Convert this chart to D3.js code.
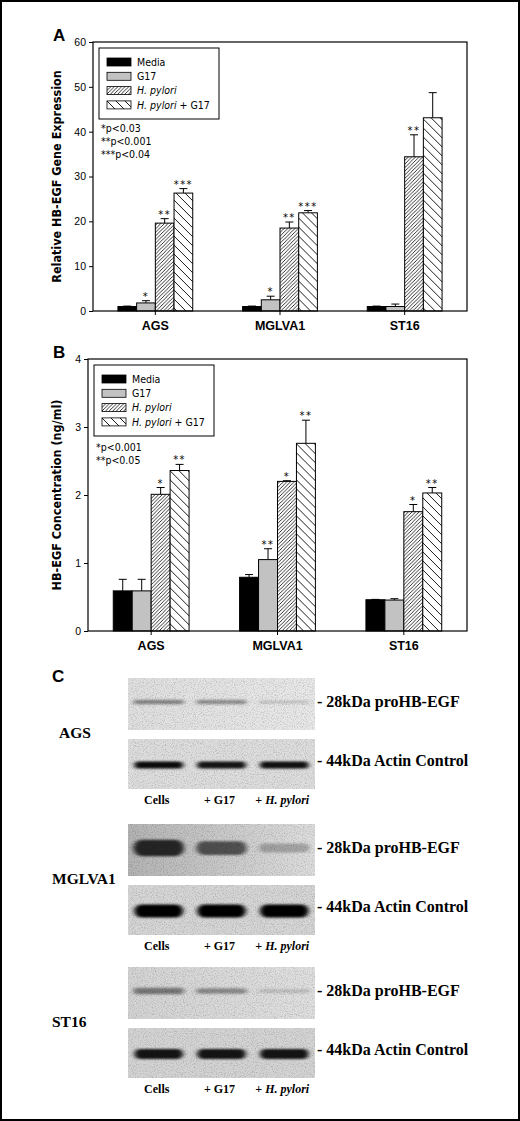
<!DOCTYPE html>
<html>
<head>
<meta charset="utf-8">
<script src="https://cdn.jsdelivr.net/npm/d3@7"></script>
<style>
  body { margin: 0; background: #fff; }
  svg { display: block; }
  .sans { font-family: "DejaVu Sans Condensed", "DejaVu Sans", sans-serif; font-stretch: condensed; }
  .serif { font-family: "Liberation Serif", "Times New Roman", serif; font-weight: bold; }
</style>
</head>
<body>
<svg id="fig" width="520" height="1121"></svg>
<script>
// ---- data ----
const groups = ["AGS", "MGLVA1", "ST16"];
const series = ["Media", "G17", "H. pylori", "H. pylori + G17"];

// panel A: relative HB-EGF gene expression
const geneMean = [[1.0, 1.8, 19.6, 26.3], [1.0, 2.5, 18.5, 21.9], [1.0, 1.0, 34.4, 43.1]];
const geneErr = [[0.1, 0.5, 1.0, 1.0], [0.1, 0.8, 1.35, 0.5], [0.1, 0.55, 4.9, 5.6]];
const geneStars = [["", "*", "**", "***"], ["", "*", "**", "***"], ["", "", "**", ""]];
const geneTicks = [0, 10, 20, 30, 40, 50, 60];
const geneNotes = ["*p<0.03", "**p<0.001", "***p<0.04"];

// panel B: HB-EGF concentration (ng/ml)
const concMean = [[0.59, 0.59, 2.01, 2.36], [0.79, 1.05, 2.2, 2.76], [0.46, 0.455, 1.755, 2.03]];
const concErr = [[0.17, 0.17, 0.1, 0.09], [0.04, 0.16, 0.01, 0.34], [0.005, 0.02, 0.105, 0.08]];
const concStars = [["", "", "*", "**"], ["", "**", "*", "**"], ["", "", "*", "**"]];
const concTicks = [0, 1, 2, 3, 4];
const concNotes = ["*p<0.001", "**p<0.05"];

// panel C: western blots, relative band darkness per lane
const lanes = ["Cells", "+ G17", "+ H. pylori"];
const proBand = [[0.5, 0.45, 0.2], [1.0, 0.75, 0.3], [0.55, 0.45, 0.18]];
const actinBand = [[0.95, 0.9, 0.92], [1.0, 1.0, 1.0], [0.9, 0.9, 0.9]];

const svg = d3.select("#fig");
const defs = svg.append("defs");

// hatch patterns
const dense = defs.append("pattern").attr("id", "hatchDense")
  .attr("patternUnits", "userSpaceOnUse").attr("width", 3.6).attr("height", 3.6);
dense.append("rect").attr("width", 3.6).attr("height", 3.6).attr("fill", "#fff");
dense.append("path").attr("d", "M-1,1 L1,-1 M0,3.6 L3.6,0 M2.6,4.6 L4.6,2.6")
  .attr("stroke", "#000").attr("stroke-width", 0.8);

const wide = defs.append("pattern").attr("id", "hatchWide")
  .attr("patternUnits", "userSpaceOnUse").attr("width", 9).attr("height", 9);
wide.append("rect").attr("width", 9).attr("height", 9).attr("fill", "#fff");
wide.append("path").attr("d", "M0,0 L9,9 M-1,8 L1,10 M8,-1 L10,1")
  .attr("stroke", "#000").attr("stroke-width", 0.9);

defs.append("filter").attr("id", "blur").attr("x", "-30%").attr("y", "-150%")
  .attr("width", "160%").attr("height", "400%")
  .append("feGaussianBlur").attr("stdDeviation", "2.5 1.3");

// faint film grain for blot backgrounds
const grain = defs.append("filter").attr("id", "grain");
grain.append("feTurbulence").attr("type", "fractalNoise").attr("baseFrequency", 0.9)
  .attr("numOctaves", 2).attr("seed", 3).attr("result", "noise");
grain.append("feColorMatrix").attr("in", "noise").attr("type", "matrix")
  .attr("values", "0 0 0 0 0  0 0 0 0 0  0 0 0 0 0  0 0 0 -0.9 0.5").attr("result", "dots");
grain.append("feComposite").attr("in", "dots").attr("in2", "SourceGraphic")
  .attr("operator", "in").attr("result", "clipped");
grain.append("feMerge").call(m => {
  m.append("feMergeNode").attr("in", "SourceGraphic");
  m.append("feMergeNode").attr("in", "clipped");
});

const fills = ["#000", "#c2c2c2", "url(#hatchDense)", "url(#hatchWide)"];

// outer frame
svg.append("rect").attr("x", 1).attr("y", 1).attr("width", 518).attr("height", 1119)
  .attr("fill", "none").attr("stroke", "#000").attr("stroke-width", 2);

function italicLabel(sel, label) {
  const k = label.indexOf("H. pylori");
  if (k < 0) { sel.text(label); return; }
  if (k > 0) sel.append("tspan").text(label.slice(0, k));
  sel.append("tspan").attr("font-style", "italic").text("H. pylori");
  sel.append("tspan").text(label.slice(k + 9));
}

function drawPanel(p) {
  const g = svg.append("g").attr("class", "sans");
  const x = d3.scaleBand().domain(groups).range([p.left, p.right])
    .paddingInner(0.4).paddingOuter(0.2);
  const xi = d3.scaleBand().domain(series).range([0, x.bandwidth()]);
  const y = d3.scaleLinear().domain([0, p.max]).range([p.bottom, p.top]);

  // axes
  const ya = g.append("g").attr("transform", `translate(${p.left},0)`)
    .call(d3.axisLeft(y).tickValues(p.ticks).tickFormat(d3.format("d"))
      .tickSize(4).tickPadding(3));
  ya.select(".domain").remove();
  ya.selectAll("text").attr("font-size", 10.5).attr("fill", "#000");

  const xa = g.append("g").attr("transform", `translate(0,${p.bottom})`)
    .call(d3.axisBottom(x).tickSize(4).tickPadding(6));
  xa.select(".domain").remove();
  xa.selectAll("text").attr("font-size", 12.5).attr("font-weight", "bold").attr("fill", "#000");

  // bars
  groups.forEach((grp, gi) => {
    const gg = g.append("g").attr("transform", `translate(${x(grp)},0)`);
    series.forEach((s, si) => {
      const v = p.mean[gi][si];
      const e = p.err[gi][si];
      const cx = xi(s) + xi.bandwidth() / 2;
      gg.append("line").attr("x1", cx).attr("x2", cx)
        .attr("y1", y(v)).attr("y2", y(v + e)).attr("stroke", "#000");
      gg.append("line").attr("x1", cx - 4).attr("x2", cx + 4)
        .attr("y1", y(v + e)).attr("y2", y(v + e)).attr("stroke", "#000");
      gg.append("rect").attr("x", xi(s)).attr("width", xi.bandwidth())
        .attr("y", y(v)).attr("height", y(0) - y(v))
        .attr("fill", fills[si]).attr("stroke", "#000").attr("stroke-width", 1);
      if (p.stars[gi][si]) {
        gg.append("text").attr("x", cx).attr("y", y(v + e) - 1)
          .attr("text-anchor", "middle").attr("font-size", 11)
          .attr("letter-spacing", 1.5).text(p.stars[gi][si]);
      }
    });
  });

  // frame
  g.append("rect").attr("x", p.left).attr("y", p.top)
    .attr("width", p.right - p.left).attr("height", p.bottom - p.top)
    .attr("fill", "none").attr("stroke", "#000").attr("stroke-width", 1.2);

  // legend
  const lg = g.append("g").attr("transform", `translate(${p.left + 6},${p.top + 6})`);
  lg.append("rect").attr("width", 120).attr("height", 71)
    .attr("fill", "#fff").attr("stroke", "#000").attr("stroke-width", 1);
  series.forEach((s, si) => {
    const cy = 14 + si * 14.3;
    lg.append("rect").attr("x", 8).attr("y", cy - 4).attr("width", 24).attr("height", 8)
      .attr("fill", fills[si]).attr("stroke", "#000").attr("stroke-width", 0.8);
    lg.append("text").attr("x", 38).attr("y", cy + 3.8).attr("font-size", 10.5)
      .call(italicLabel, s);
  });

  // significance notes
  p.notes.forEach((n, ni) => {
    g.append("text").attr("x", p.left + 8).attr("y", p.noteY + ni * p.noteStep)
      .attr("font-size", 10.5).text(n);
  });

  // y label
  g.append("text")
    .attr("transform", `translate(61,${(p.top + p.bottom) / 2}) rotate(-90)`)
    .attr("text-anchor", "middle").attr("font-size", 12.5).attr("font-weight", "bold")
    .text(p.ylabel);

  // panel letter
  svg.append("text").attr("x", 53).attr("y", p.top - 1)
    .attr("font-family", "Liberation Sans, Arial, sans-serif")
    .attr("font-weight", "bold").attr("font-size", 17).text(p.letter);
}

drawPanel({
  letter: "A", left: 93, right: 467, top: 42, bottom: 311, max: 60,
  ticks: geneTicks, mean: geneMean, err: geneErr, stars: geneStars,
  notes: geneNotes, noteY: 132, noteStep: 13,
  ylabel: "Relative HB-EGF Gene Expression"
});

drawPanel({
  letter: "B", left: 88, right: 467, top: 359, bottom: 631, max: 4,
  ticks: concTicks, mean: concMean, err: concErr, stars: concStars,
  notes: concNotes, noteY: 451, noteStep: 12.5,
  ylabel: "HB-EGF Concentration (ng/ml)"
});

// ---- panel C: blots ----
svg.append("text").attr("x", 52).attr("y", 682)
  .attr("font-family", "Liberation Sans, Arial, sans-serif")
  .attr("font-weight", "bold").attr("font-size", 17).text("C");

const blotRows = [
  { top: 678, labelX: 59, proH: 4.5, actH: 7, bg: ["#e0e0e0", "#e9e9e9"], actBg: "#dedede" },
  { top: 824, labelX: 52, proH: 11, actH: 13, bg: ["#b4b4b4", "#dedede"], actBg: "#d6d6d6" },
  { top: 967, labelX: 52, proH: 6, actH: 10, bg: ["#d4d4d4", "#e0e0e0"], actBg: "#d4d4d4" }
];
const xl = d3.scaleBand().domain(lanes).range([128, 315]).paddingInner(0.1).paddingOuter(0.04);

blotRows.forEach((r, ri) => {
  const gid = "bg" + ri;
  const grad = defs.append("linearGradient").attr("id", gid);
  grad.append("stop").attr("offset", "0%").attr("stop-color", r.bg[0]);
  grad.append("stop").attr("offset", "100%").attr("stop-color", r.bg[1]);

  const g = svg.append("g");
  const proTop = r.top, actTop = r.top + 61;

  g.append("rect").attr("x", 128).attr("y", proTop).attr("width", 187).attr("height", 52)
    .attr("fill", `url(#${gid})`).attr("filter", "url(#grain)");
  g.append("rect").attr("x", 128).attr("y", actTop).attr("width", 187).attr("height", 50)
    .attr("fill", r.actBg).attr("filter", "url(#grain)");

  lanes.forEach((l, li) => {
    const cx = xl(l) + xl.bandwidth() / 2;
    const k = proBand[ri][li];
    const ph = r.proH * (0.5 + k);
    g.append("rect")
      .attr("x", xl(l) + 3).attr("width", xl.bandwidth() - 6)
      .attr("y", proTop + 24 - ph / 2).attr("height", ph).attr("rx", ph / 2)
      .attr("fill", "#000").attr("opacity", k * 0.8).attr("filter", "url(#blur)");
    const a = actinBand[ri][li];
    g.append("rect")
      .attr("x", xl(l) + 4).attr("width", xl.bandwidth() - 8)
      .attr("y", actTop + 26 - r.actH / 2).attr("height", r.actH).attr("rx", r.actH / 2)
      .attr("fill", "#000").attr("opacity", a).attr("filter", "url(#blur)");
    g.append("text").attr("class", "serif")
      .attr("x", cx - 2).attr("y", actTop + 65)
      .attr("text-anchor", "middle").attr("font-size", 12)
      .call(italicLabel, l);
  });

  g.append("text").attr("class", "serif").attr("x", 317).attr("y", proTop + 29)
    .attr("font-size", 16).text("- 28kDa proHB-EGF");
  g.append("text").attr("class", "serif").attr("x", 317).attr("y", actTop + 27)
    .attr("font-size", 16).text("- 44kDa Actin Control");
  g.append("text").attr("class", "serif").attr("x", r.labelX).attr("y", r.top + 60)
    .attr("font-size", 15.5).text(groups[ri]);
});
</script>
</body>
</html>
